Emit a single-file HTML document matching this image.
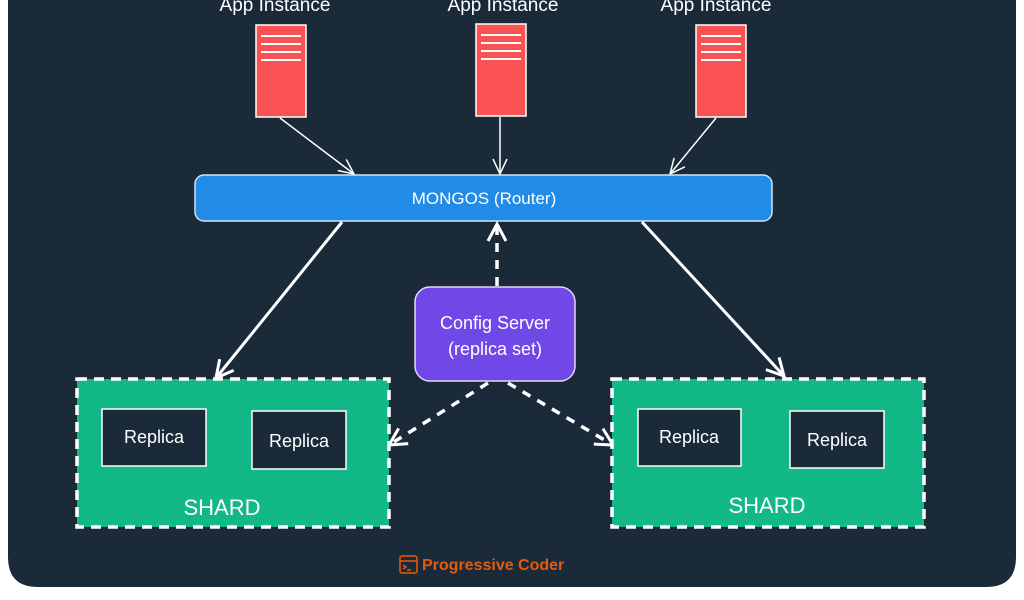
<!DOCTYPE html>
<html><head><meta charset="utf-8"><style>
html,body{margin:0;padding:0;background:#fff;width:1024px;height:600px;overflow:hidden}
svg text{font-family:"Comic Sans MS","Liberation Sans",sans-serif;fill:#fff}
</style></head><body>
<svg width="1024" height="600" viewBox="0 0 1024 600" xmlns="http://www.w3.org/2000/svg">
<defs>
<marker id="a" markerWidth="20" markerHeight="20" refX="17" refY="10" orient="auto" markerUnits="userSpaceOnUse">
<path d="M2,3 L17,10 L2,17" fill="none" stroke="#fff" stroke-width="1.5"/>
</marker>
<marker id="b" markerWidth="22" markerHeight="22" refX="19" refY="11" orient="auto" markerUnits="userSpaceOnUse">
<path d="M2,2 L19,11 L2,20" fill="none" stroke="#fff" stroke-width="3"/>
</marker>
</defs>
<path d="M8,0 H1016 V557 Q1016,587 986,587 H38 Q8,587 8,557 Z" fill="#1b2a38"/>
<g font-size="19" text-anchor="middle">
<text x="275" y="11">App Instance</text>
<text x="503" y="11">App Instance</text>
<text x="716" y="11">App Instance</text>
</g>
<g fill="#fa5252" stroke="#fff" stroke-width="1.5">
<rect x="256" y="25" width="50" height="92"/>
<rect x="476" y="24" width="50" height="92"/>
<rect x="696" y="25" width="50" height="92"/>
</g>
<g stroke="#fff" stroke-width="2">
<path d="M261,36H301M261,44H301M261,52H301M261,60H301"/>
<path d="M481,35H521M481,43H521M481,51H521M481,59H521"/>
<path d="M701,36H741M701,44H741M701,52H741M701,60H741"/>
</g>
<g stroke="#fff" stroke-width="1.5" fill="none" marker-end="url(#a)">
<line x1="280" y1="118" x2="354" y2="174"/>
<line x1="500" y1="117" x2="500" y2="174"/>
<line x1="716" y1="118" x2="670" y2="174"/>
</g>
<rect x="195" y="175" width="577" height="46" rx="9" fill="#228be6" stroke="#cfe3f7" stroke-width="1.5"/>
<text x="484" y="204" font-size="17" text-anchor="middle">MONGOS (Router)</text>
<g stroke="#fff" stroke-width="3" fill="none" marker-end="url(#b)">
<line x1="342" y1="222" x2="216" y2="378"/>
<line x1="642" y1="222" x2="784" y2="376"/>
</g>
<g stroke="#fff" stroke-width="3.5" fill="none" stroke-dasharray="9 8" marker-end="url(#b)">
<line x1="497" y1="286" x2="497" y2="224"/>
<line x1="488" y1="383" x2="389" y2="445"/>
<line x1="508" y1="383" x2="613" y2="445"/>
</g>
<rect x="415" y="287" width="160" height="94" rx="15" fill="#7048e8" stroke="#e0d8fb" stroke-width="1.5"/>
<text x="495" y="329" font-size="18" text-anchor="middle">Config Server</text>
<text x="495" y="355" font-size="18" text-anchor="middle">(replica set)</text>
<g fill="#12b886" stroke="#fff" stroke-width="3.5" stroke-dasharray="10 7">
<rect x="77" y="379" width="312" height="148"/>
<rect x="612" y="379" width="312" height="148"/>
</g>
<g fill="#1b2a38" stroke="#fff" stroke-width="1.5">
<rect x="102" y="409" width="104" height="57"/>
<rect x="252" y="411" width="94" height="58"/>
<rect x="638" y="409" width="103" height="57"/>
<rect x="790" y="411" width="94" height="57"/>
</g>
<g font-size="18" text-anchor="middle">
<text x="154" y="443">Replica</text>
<text x="299" y="447">Replica</text>
<text x="689" y="443">Replica</text>
<text x="837" y="446">Replica</text>
<text x="222" y="515" font-size="22">SHARD</text>
<text x="767" y="513" font-size="22">SHARD</text>
</g>
<g stroke="#e8590c" stroke-width="1.5" fill="none">
<rect x="400" y="556" width="17" height="17" rx="2"/>
<line x1="400" y1="561" x2="417" y2="561"/>
<path d="M403,565 l3,2 l-3,2 M407,570 h4"/>
</g>
<text x="422" y="570" font-size="16" font-weight="bold" style="fill:#e8590c;font-family:'Liberation Sans',sans-serif">Progressive Coder</text>
</svg>
</body></html>
